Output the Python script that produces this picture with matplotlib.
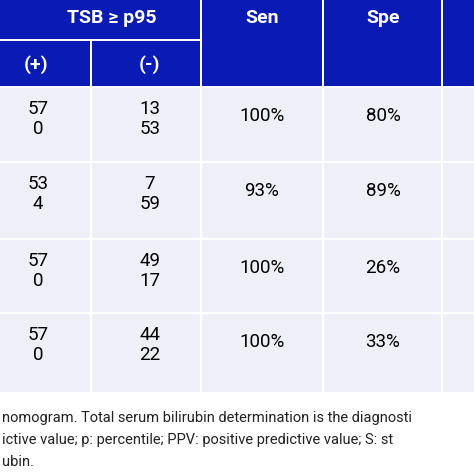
import matplotlib.pyplot as plt
from matplotlib.patches import Rectangle

plt.rcParams['font.family'] = ['Roboto', 'DejaVu Sans']

W, H = 474, 474
header_color = '#0a1ab4'
cell_color = '#efeff7'

# column edges (pixels) and row edges
col_edges = [-10, 91, 201, 323, 442, 484]
row_edges = [-5, 40, 87, 162, 239, 313, 393]

header_top = ["TSB \u2265 p95", "Sen", "Spe"]
sub_header = ["(+)", "(-)"]
pos_counts = [("57", "0"), ("53", "4"), ("57", "0"), ("57", "0")]
neg_counts = [("13", "53"), ("7", "59"), ("49", "17"), ("44", "22")]
sen = ["100%", "93%", "100%", "100%"]
spe = ["80%", "89%", "26%", "33%"]
caption = ["nomogram. Total serum bilirubin determination is the diagnosti",
           "ictive value; p: percentile; PPV: positive predictive value; S: st",
           "ubin."]

fig = plt.figure(figsize=(4.74, 4.74), dpi=100)
ax = fig.add_axes([0, 0, 1, 1])
ax.set_xlim(0, W)
ax.set_ylim(H, 0)
ax.axis('off')

def cell(x0, x1, y0, y1, color):
    ax.add_patch(Rectangle((x0 + 1, y0 + 1), x1 - x0 - 2, y1 - y0 - 2, color=color, lw=0))

# header
cell(col_edges[0], col_edges[2], row_edges[0], row_edges[1], header_color)
cell(col_edges[0], col_edges[1], row_edges[1], row_edges[2], header_color)
cell(col_edges[1], col_edges[2], row_edges[1], row_edges[2], header_color)
for c in range(2, 5):
    cell(col_edges[c], col_edges[c + 1], row_edges[0], row_edges[2], header_color)

hk = dict(color='white', fontsize=14, fontweight='bold', ha='center', va='center')
ax.text(112, 18, header_top[0], **hk)
ax.text(262, 18, header_top[1], **hk)
ax.text(383, 18, header_top[2], **hk)
ax.text(36, 65, sub_header[0], **hk)
ax.text(150, 65, sub_header[1], **hk)

# body
tk = dict(color='black', fontsize=13.5, ha='center', va='center')
for r in range(4):
    y0, y1 = row_edges[r + 2], row_edges[r + 3]
    for c in range(5):
        cell(col_edges[c], col_edges[c + 1], y0, y1, cell_color)
    ya = y0 + 22
    ax.text(38, ya, pos_counts[r][0], **tk)
    ax.text(38, ya + 20, pos_counts[r][1], **tk)
    ax.text(150, ya, neg_counts[r][0], **tk)
    ax.text(150, ya + 20, neg_counts[r][1], **tk)
    ax.text(262, ya + 7, sen[r], **tk)
    ax.text(383, ya + 7, spe[r], **tk)

for i, line in enumerate(caption):
    ax.text(2, 418 + i * 22, line, color='#222222', fontsize=10.5, ha='left', va='center')

fig.savefig('out.png', dpi=100, facecolor='white')
